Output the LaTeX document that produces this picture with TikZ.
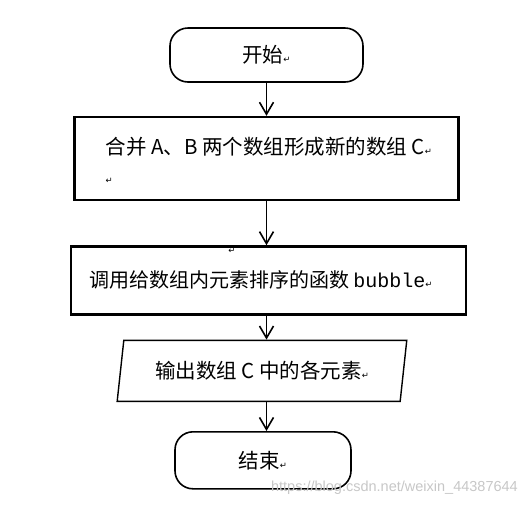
\documentclass[tikz,border=0pt]{standalone}
\usepackage{fontspec}
\setmainfont{Noto Sans CJK SC}
\newfontfamily\monofont{Liberation Mono}
\newfontfamily\symfont{DejaVu Sans}
\newfontfamily\webfont{Liberation Sans}
\usetikzlibrary{
  arrows.meta,
  positioning,
  shapes.geometric
}
\newcommand{\ret}{{\symfont\fontsize{8.5}{9}\selectfont ↵}}
\tikzset{
  terminal/.style={
    draw,
    line width=1.6pt,
    rounded corners=18pt,
    minimum width=193pt,
    minimum height=54pt,
    inner sep=0pt
  },
  process/.style={
    draw,
    line width=2.4pt,
    inner sep=0pt
  },
  io/.style={
    draw,
    trapezium,
    trapezium left angle=75,
    trapezium right angle=105,
    trapezium stretches=true,
    line width=1.4pt,
    inner sep=0pt
  },
  txt/.style={
    font=\fontsize{20.5}{24}\selectfont,
    inner sep=0pt
  }
}

\begin{document}
\begin{tikzpicture}[
      x=1pt, y=1pt,
      flow/.style={-{Straight Barb[length=12pt,width=14pt]}, line width=1.6pt}
      ]
      \useasboundingbox (0,0) rectangle (528,-507);

      \node[terminal, txt] (start) at (266.5,-55) {开始\ret};
      \node[process, below=33pt of start, minimum width=384pt, minimum height=83pt] (merge) {};
      \node[process, below=44pt of merge, xshift=2pt, minimum width=395pt, minimum height=68pt] (sort) {};
      \node[io, txt, below=24pt of sort, xshift=-6.5pt, minimum width=290pt, minimum height=61pt] (output) {输出数组 C 中的各元素\ret};
      \node[terminal, txt, below=29pt of output, xshift=1pt, minimum width=176pt, minimum height=57pt] (stop) {结束\ret};

      % texts in the two boxes
      \node[txt, anchor=west] (mergetxt) at ([xshift=32pt,yshift=11.5pt]merge.west) {合并 A、B 两个数组形成新的数组 C\ret};
      \node[anchor=west, inner sep=0pt] (mergeret) at ([xshift=32pt,yshift=-22.5pt]merge.west) {\ret};
      \node[txt, font=\fontsize{20}{24}\selectfont, anchor=west] (sorttxt) at ([xshift=19pt,yshift=1pt]sort.west) {调用给数组内元素排序的函数 {\monofont bubble}\ret};
      \node[inner sep=0pt] (sortret) at ([xshift=-36.5pt,yshift=-6pt]sort.north) {\ret};

      \foreach \a/\b in {start/merge, merge/sort, sort/output, output/stop}{
        \draw[flow] (\a.south -| start) -- (\b.north -| start);
      }

      \node[font=\webfont\fontsize{14.5}{16}\selectfont, text=black!22, anchor=east, inner sep=0pt] (mark) at (518,-488) {https://blog.csdn.net/weixin\_44387644};
    \end{tikzpicture}
\end{document}
